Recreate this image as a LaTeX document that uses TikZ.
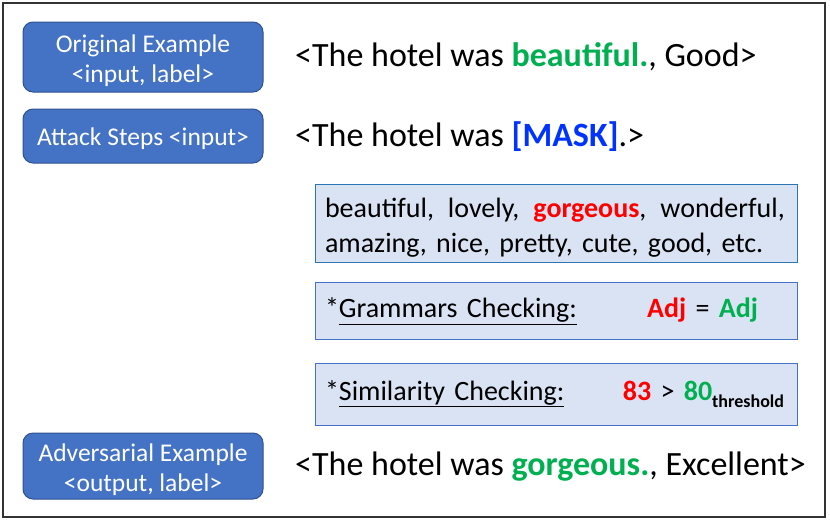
\documentclass[tikz,border=0pt]{standalone}
\usepackage{fontspec}
\setmainfont{Carlito}
\definecolor{boxblue}{RGB}{68, 114, 196}
\definecolor{boxedge}{RGB}{47, 82, 143}
\definecolor{paleblue}{RGB}{218, 227, 243}
\definecolor{paleedge}{RGB}{46, 117, 182}
\definecolor{okgreen}{RGB}{0, 176, 80}
\definecolor{badred}{RGB}{255, 0, 0}
\definecolor{maskblue}{RGB}{0, 51, 255}
\usepackage{tikz}
\usetikzlibrary{positioning}

\begin{document}
\begin{tikzpicture}[x=1pt, y=-1pt,
    rolebox/.style={draw=boxedge, fill=boxblue, rounded corners=10pt, line width=1pt, text=white, align=center, minimum width=240pt, inner sep=2pt, font=\fontsize{25.5}{30}\selectfont},
    sentence/.style={anchor=west, inner sep=0pt, font=\fontsize{34}{40}\selectfont},
    checkbox/.style={draw=boxblue, fill=paleblue, line width=1pt, minimum width=482pt, text width=462pt, inner xsep=10pt, inner ysep=4pt, align=left, font=\fontsize{28}{35}\selectfont}]
  \useasboundingbox (0,0) rectangle (830,520);
  \draw[line width=1.5pt, black!80] (3,3) rectangle (825,517);

  % Role boxes on the left
  \node[rolebox, minimum height=70pt] (orig) at (143,57) {\rule{0pt}{25pt}Original Example\\<input, label>};
  \node[rolebox, minimum height=54pt] (attack) at (143,136) {\rule{0pt}{23pt}Attack Steps <input>};
  \node[rolebox, minimum height=66pt] (adv) at (143,466) {\rule{0pt}{25pt}Adversarial Example\\<output, label>};

  % Sentences
  \node[sentence] (origtext) at (295,57) {<The hotel was \textcolor{okgreen}{\textbf{beautiful.}}, Good>};
  \node[sentence] (masktext) at (295,137) {<The hotel was \textcolor{maskblue}{\textbf{[MASK]}}.>};
  \node[sentence] (advtext) at (295,467) {<The hotel was \textcolor{okgreen}{\textbf{gorgeous.}}, Excellent>};

  % Candidates and checks
  \node[checkbox, draw=paleedge, minimum height=78pt] (cands) at (556,223) {\rule{0pt}{28pt}beautiful,\, lovely,\, \textcolor{badred}{\textbf{gorgeous}},\, wonderful,\\amazing, nice, pretty, cute, good, etc.};
  \node[checkbox, minimum height=57pt] (grammar) at (556,311) {*\underline{Grammars Checking:}\hfill\textcolor{badred}{\textbf{Adj}} = \textcolor{okgreen}{\textbf{Adj}}\hspace{29pt}\mbox{}};
  \node[checkbox, minimum height=62pt] (simil) at (556,394) {*\underline{Similarity Checking:}\hfill\textcolor{badred}{\textbf{83}} > \textcolor{okgreen}{\textbf{80}}\raisebox{-7pt}{\fontsize{18}{18}\selectfont\textbf{threshold}}\hspace{3pt}\mbox{}};
\end{tikzpicture}
\end{document}
